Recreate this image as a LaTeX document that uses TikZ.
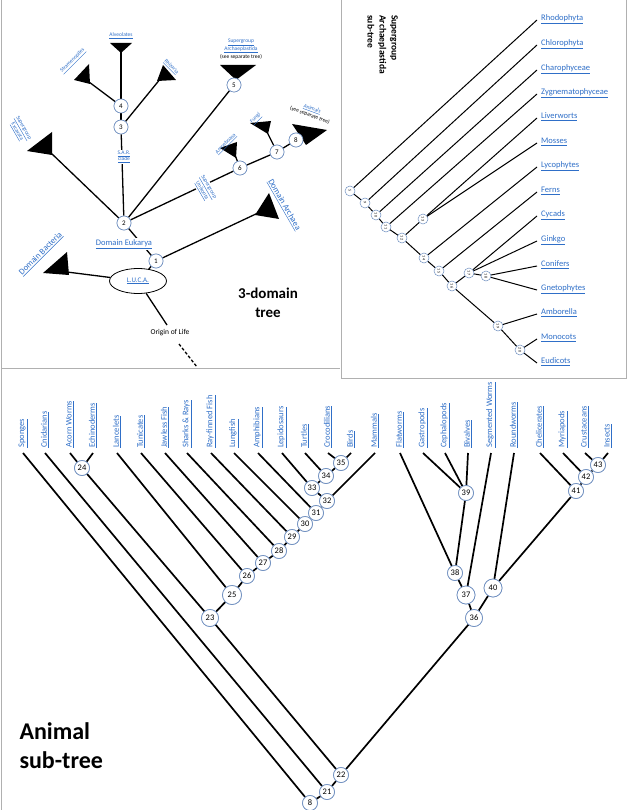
\documentclass[tikz,border=0pt]{standalone}
\usepackage{fontspec}
\setmainfont{Carlito}
\usetikzlibrary{shapes.geometric}
\definecolor{linkblue}{HTML}{2F6FC8}
\definecolor{nodeblue}{HTML}{6F8FC0}
\definecolor{frame}{HTML}{B0B0B0}
\begin{document}
\begin{tikzpicture}[x=1pt,y=-1pt,
  br/.style={line width=1.3pt},
  ab/.style={line width=1.7pt},
  n/.style={circle,draw=nodeblue,fill=white,line width=0.6pt,inner sep=0pt,minimum size=#1,font=\fontsize{7}{7}\selectfont},
  n/.default=14pt,
  sn/.style={circle,draw=nodeblue,fill=white,line width=0.5pt,inner sep=0pt,minimum size=10pt,font=\fontsize{4}{4}\selectfont},
  an/.style={circle,draw=nodeblue,fill=white,line width=0.7pt,inner sep=0pt,minimum size=#1,font=\fontsize{8.5}{8.5}\selectfont},
  an/.default=15pt,
  lk/.style={text=linkblue,inner sep=1pt,font=\fontsize{5.5}{6}\selectfont},
  al/.style={text=linkblue,inner sep=0pt,rotate=90,anchor=west,font=\fontsize{8.5}{9}\selectfont},
  rl/.style={text=linkblue,inner sep=0pt,anchor=west,font=\fontsize{8.5}{9}\selectfont},
  tri/.style={fill=black}]
\useasboundingbox (0,0) rectangle (627,810);
\fill[white] (0,0) rectangle (627,810);
\draw[frame,line width=1pt] (1,0) -- (1,810);
\draw[frame,line width=1pt] (1,368) -- (340,368);

% ===== 3-domain tree =====
\node[n] (n4) at (121,106) {4};
\node[n] (n3) at (121,127) {3};
\node[n] (n5) at (234,85) {5};
\node[n] (n2) at (124,223) {2};
\node[n] (n1) at (156,261) {1};
\node[n] (n6) at (240,168) {6};
\node[n] (n7) at (277,152) {7};
\node[n] (n8) at (296,140) {8};
\node[ellipse,draw,line width=0.8pt,fill=white,minimum width=57pt,minimum height=25pt,inner sep=0pt,text=linkblue,font=\fontsize{7}{7}\selectfont] (luca) at (138,281) {\underline{L.U.C.A.}};

\coordinate (alv) at (121,52);
\coordinate (str) at (89,82);
\coordinate (rhi) at (161,78);
\coordinate (arc5) at (236,78);
\coordinate (exc) at (51,153);
\coordinate (amo) at (235,155);
\coordinate (fun) at (267,132);
\coordinate (ani) at (305,140);
\coordinate (arch) at (258,213);
\coordinate (bac) at (67,272);
\coordinate (ol) at (167,325);
\coordinate (ds) at (179,344);
\coordinate (de) at (197,367);

\fill[tri] (110,43) -- (132,43) -- (121,53) -- cycle;
\fill[tri] (74,80) -- (89,64) -- (90,84) -- cycle;
\fill[tri] (157,81) -- (176,80) -- (163,65) -- cycle;
\fill[tri] (220,65) -- (256,65) -- (236,80) -- cycle;
\fill[tri] (27,151) -- (52,132) -- (52,155) -- cycle;
\fill[tri] (220,148) -- (237,142) -- (236,158) -- cycle;
\fill[tri] (250,123) -- (271,121) -- (268,134) -- cycle;
\fill[tri] (292,124) -- (327,130) -- (306,145) -- cycle;
\fill[tri] (255,215) -- (269,193) -- (279,219) -- cycle;
\fill[tri] (43,273) -- (67,252) -- (69,275) -- cycle;

\draw[br] (n3) -- (n4); \draw[br] (n4) -- (alv); \draw[br] (n4) -- (str);
\draw[br] (n3) -- (rhi); \draw[br] (n2) -- (n3); \draw[br] (n2) -- (n5);
\draw[br] (n2) -- (exc); \draw[br] (n2) -- (n6); \draw[br] (n6) -- (n7); \draw[br] (n7) -- (n8);
\draw[br] (n6) -- (amo); \draw[br] (n7) -- (fun); \draw[br] (n8) -- (ani);
\draw[br] (n1) -- (n2); \draw[br] (n1) -- (arch); \draw[br] (luca) -- (n1);
\draw[br] (luca) -- (bac); \draw[br] (luca) -- (ol);
\draw[br,dash pattern=on 3pt off 2pt] (ds) -- (de);
\node[n] at (n4) {4}; \node[n] at (n3) {3}; \node[n] at (n5) {5}; \node[n] at (n2) {2};
\node[n] at (n6) {6}; \node[n] at (n7) {7}; \node[n] at (n8) {8}; \node[n] at (n1) {1};

\node[lk] (lalv) at (121,36) {\underline{Alveolates}};
\node[lk,rotate=45] (lstr) at (73,61) {\underline{Stramenopiles}};
\node[lk,rotate=-45] (lrhi) at (171,67) {\underline{Rhizaria}};
\node[lk,align=center] (larc) at (241,49) {\underline{Supergroup}\\\underline{Archaeplastida}\\\textcolor{black}{(see separate tree)}};
\node[lk,rotate=-60,align=center] (lexc) at (20,130) {\underline{Supergroup}\\\underline{Excavata}};
\node[lk,align=center,fill=white] (lsar) at (124,157) {\underline{S.A.R.}\\\underline{clade}};
\node[lk,rotate=-60,align=center,fill=white] (luni) at (205,189) {\underline{Supergroup}\\\underline{Unikonta}};
\node[lk,rotate=45] (lamo) at (226,144) {\underline{Amoebozoa}};
\node[lk,rotate=45] (lfun) at (256,119) {\underline{Fungi}};
\node[lk,rotate=-20,align=center] (lani) at (311,112) {\underline{Animals}\\\textcolor{black}{(see separate tree)}};
\node[lk,rotate=-60,font=\fontsize{8.5}{9}\selectfont] (larch) at (284,205) {\underline{Domain Archaea}};
\node[lk,rotate=45,font=\fontsize{8.5}{9}\selectfont] (lbac) at (41,254) {\underline{Domain Bacteria}};
\node[lk,fill=white,font=\fontsize{8.5}{9}\selectfont] (leuk) at (124,244) {\underline{Domain Eukarya}};
\node[fill=white,inner sep=1pt,font=\fontsize{7.5}{8}\selectfont] (lol) at (170,333) {Origin of Life};
\node[align=center,font=\fontsize{15}{19}\bfseries\selectfont] (t3) at (268,303) {3-domain\\tree};

% ===== Animal sub-tree =====
\foreach \x/\t/\k in {23/Sponges/a1,45/Cnidarians/a2,70/Acorn Worms/a3,93/Echinoderms/a4,117/Lancelets/a5,141/Tunicates/a6,165/Jawless Fish/a7,187/Sharks \& Rays/a8,211/Ray-finned Fish/a9,234/Lungfish/a10,258/Amphibians/a11,282/Lepidosaurs/a12,305/Turtles/a13,328/Crocodilians/a14,351/Birds/a15,375/Mammals/a16,400/Flatworms/b1,423/Gastropods/b2,445/Cephalopods/b3,468/Bivalves/b4,491/Segmented Worms/b5,514/Roundworms/b6,540/Chelicerates/b7,563/Myriapods/b8,585/Crustaceans/b9,608/Insects/b10}
  {\node[al] (L\k) at (\x,448) {\underline{\t}}; \coordinate (\k) at (\x,453);}

\node[an] (m24) at (82,468) {24};
\node[an] (m35) at (341,463) {35};
\node[an] (m34) at (326,476) {34};
\node[an] (m33) at (312,488) {33};
\node[an] (m32) at (327,501) {32};
\node[an] (m31) at (316,513) {31};
\node[an] (m30) at (305,524) {30};
\node[an] (m29) at (292,537) {29};
\node[an] (m28) at (279,551) {28};
\node[an] (m27) at (263,563) {27};
\node[an] (m26) at (247,576) {26};
\node[an=19pt] (m25) at (232,595) {25};
\node[an=17pt] (m23) at (210,618) {23};
\node[an] (m39) at (466,493) {39};
\node[an] (m38) at (455,573) {38};
\node[an=18pt] (m37) at (466,595) {37};
\node[an=18pt] (m40) at (493,588) {40};
\node[an=17pt] (m36) at (474,618) {36};
\node[an] (m41) at (576,491) {41};
\node[an] (m42) at (586,477) {42};
\node[an] (m43) at (598,465) {43};
\node[an] (m22) at (341,775) {22};
\node[an] (m21) at (327,792) {21};
\node[an] (m8) at (310,803) {8};

\draw[ab] (a1) -- (m8); \draw[ab] (a2) -- (m21); \draw[ab] (m23) -- (m22);
\draw[ab] (m8) -- (m21); \draw[ab] (m21) -- (m22); \draw[ab] (m22) -- (m36);
\draw[ab] (a3) -- (m24); \draw[ab] (a4) -- (m24); \draw[ab] (m24) -- (m23);
\draw[ab] (a5) -- (m25); \draw[ab] (a6) -- (m26); \draw[ab] (a7) -- (m27);
\draw[ab] (a8) -- (m28); \draw[ab] (a9) -- (m29); \draw[ab] (a10) -- (m30);
\draw[ab] (a11) -- (m31); \draw[ab] (a12) -- (m33); \draw[ab] (a13) -- (m34);
\draw[ab] (a14) -- (m35); \draw[ab] (a15) -- (m35); \draw[ab] (a16) -- (m32);
\draw[ab] (m23) -- (m25); \draw[ab] (m25) -- (m26); \draw[ab] (m26) -- (m27);
\draw[ab] (m27) -- (m28); \draw[ab] (m28) -- (m29); \draw[ab] (m29) -- (m30);
\draw[ab] (m30) -- (m31); \draw[ab] (m31) -- (m32); \draw[ab] (m32) -- (m33);
\draw[ab] (m33) -- (m34); \draw[ab] (m34) -- (m35);
\draw[ab] (b1) -- (m38); \draw[ab] (b2) -- (m39); \draw[ab] (b3) -- (m39); \draw[ab] (b4) -- (m39);
\draw[ab] (m39) -- (m38); \draw[ab] (m38) -- (m37); \draw[ab] (b5) -- (m37); \draw[ab] (m37) -- (m36);
\draw[ab] (b6) -- (m40); \draw[ab] (m40) -- (m36); \draw[ab] (m40) -- (m41);
\draw[ab] (b7) -- (m41); \draw[ab] (b8) -- (m42); \draw[ab] (b9) -- (m43); \draw[ab] (b10) -- (m43);
\draw[ab] (m41) -- (m42); \draw[ab] (m42) -- (m43);
\foreach \k in {24,35,34,33,32,31,30,29,28,27,26,39,38,41,42,43,22,21,8}
  {\node[an] at (m\k) {\k};}
\node[an=19pt] at (m25) {25}; \node[an=17pt] at (m23) {23};
\node[an=18pt] at (m37) {37}; \node[an=18pt] at (m40) {40}; \node[an=17pt] at (m36) {36};

\node[anchor=west,align=left,font=\fontsize{24}{29}\bfseries\selectfont] (tani) at (16,746) {Animal\\sub-tree};

% ===== Archaeplastida panel =====
\fill[white] (341,0) rectangle (627,378);
\draw[frame,line width=1pt] (341,0) -- (341,378) -- (627,378);
\draw[frame,line width=1pt] (626,0) -- (626,378);

\foreach \y/\t/\k in {19/Rhodophyta/p1,44/Chlorophyta/p2,69/Charophyceae/p3,93/Zygnematophyceae/p4,117/Liverworts/p5,142/Mosses/p6,166/Lycophytes/p7,191/Ferns/p8,215/Cycads/p9,240/Ginkgo/p10,265/Conifers/p11,289/Gnetophytes/p12,313/Amborella/p13,338/Monocots/p14,362/Eudicots/p15}
  {\node[rl] (R\k) at (541,\y) {\underline{\t}}; \coordinate (\k) at (537,\y+1);}

\foreach \k/\x/\y in {5/350/191,9/365/203,10/376/215,11/386/227,12/402/238,13/423/219,14/424/258,15/439/271,16/452/286,17/469/273,18/486/276,19/498/326,20/520/350}
  {\coordinate (q\k) at (\x,\y);}
\draw[br,line width=1pt] (q5) -- (p1); \draw[br,line width=1pt] (q9) -- (p2);
\draw[br,line width=1pt] (q10) -- (p3); \draw[br,line width=1pt] (q11) -- (p4);
\draw[br,line width=1pt] (q13) -- (p5); \draw[br,line width=1pt] (q13) -- (p6);
\draw[br,line width=1pt] (q12) -- (q13); \draw[br,line width=1pt] (q14) -- (p7);
\draw[br,line width=1pt] (q15) -- (p8); \draw[br,line width=1pt] (q17) -- (p9);
\draw[br,line width=1pt] (q17) -- (p10); \draw[br,line width=1pt] (q18) -- (p11);
\draw[br,line width=1pt] (q18) -- (p12); \draw[br,line width=1pt] (q16) -- (q17);
\draw[br,line width=1pt] (q17) -- (q18); \draw[br,line width=1pt] (q16) -- (q19);
\draw[br,line width=1pt] (q19) -- (p13); \draw[br,line width=1pt] (q19) -- (q20);
\draw[br,line width=1pt] (q20) -- (p14); \draw[br,line width=1pt] (q20) -- (p15);
\draw[br,line width=1pt] (q5) -- (q9) -- (q10) -- (q11) -- (q12) -- (q14) -- (q15) -- (q16);
\foreach \k in {5,9,10,11,12,13,14,15,16,17,18,19,20}
  {\node[sn,rotate=-90] (s\k) at (q\k) {\k};}
\node[rotate=-90,anchor=north west,align=left,inner sep=0pt,font=\fontsize{9.5}{12}\bfseries\selectfont] (tarc) at (398,15) {Supergroup\\Archaeplastida\\sub-tree};
\end{tikzpicture}
\end{document}
